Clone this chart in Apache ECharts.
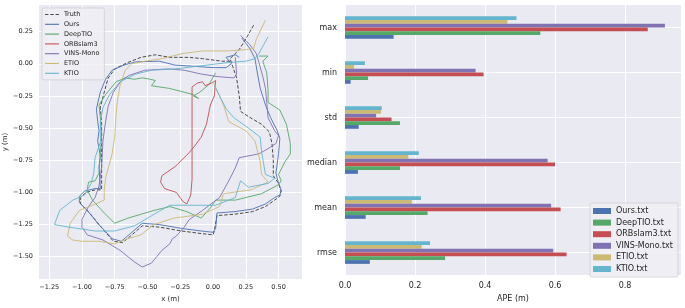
<!DOCTYPE html>
<html><head><meta charset="utf-8">
<script src="https://cdn.jsdelivr.net/npm/echarts@6/dist/echarts.min.js"></script>
<style>html,body{margin:0;padding:0;background:#fff}#c{width:685px;height:308px}</style>
</head><body><div id="c"></div>
<script>
// ---------- Left panel: trajectories [x (m), y (m)] ----------
const truth = [[0.31,0.30],[0.26,0.21],[0.20,0.11],[0.13,0.04],[0.15,-0.02],[0.18,-0.11],[0.20,-0.25],[0.21,-0.37],[0.27,-0.41],[0.37,-0.47],[0.43,-0.53],[0.45,-0.62],[0.46,-0.75],[0.46,-0.87],[0.50,-0.93],[0.52,-0.99],[0.51,-1.03],[0.47,-1.06],[0.40,-1.11],[0.30,-1.15],[0.16,-1.17],[0.03,-1.18],[0.01,-1.30],[0.00,-1.33],[-0.09,-1.32],[-0.24,-1.30],[-0.41,-1.27],[-0.54,-1.26],[-0.63,-1.34],[-0.69,-1.39],[-0.76,-1.38],[-0.87,-1.25],[-0.95,-1.15],[-1.01,-1.09],[-1.01,-1.04],[-0.97,-1.00],[-0.90,-0.98],[-0.85,-0.98],[-0.85,-0.80],[-0.85,-0.67],[-0.85,-0.47],[-0.86,-0.34],[-0.83,-0.22],[-0.80,-0.11],[-0.75,-0.04],[-0.65,0.01],[-0.55,0.05],[-0.44,0.07],[-0.33,0.05],[-0.19,0.05],[-0.08,0.04],[0.07,0.02],[0.13,0.02]];
const ours = [[0.22,0.20],[0.28,0.12],[0.32,0.04],[0.34,-0.08],[0.36,-0.19],[0.40,-0.32],[0.44,-0.42],[0.49,-0.52],[0.51,-0.58],[0.50,-0.70],[0.48,-0.85],[0.50,-0.93],[0.52,-0.98],[0.51,-1.02],[0.47,-1.04],[0.40,-1.09],[0.30,-1.13],[0.16,-1.15],[0.03,-1.16],[0.02,-1.28],[0.00,-1.31],[-0.09,-1.30],[-0.24,-1.28],[-0.41,-1.25],[-0.54,-1.24],[-0.63,-1.32],[-0.70,-1.38],[-0.77,-1.36],[-0.88,-1.24],[-0.96,-1.14],[-1.02,-1.08],[-1.02,-1.03],[-0.98,-0.99],[-0.90,-0.97],[-0.86,-0.97],[-0.87,-0.80],[-0.86,-0.72],[-0.88,-0.60],[-0.87,-0.52],[-0.88,-0.45],[-0.89,-0.35],[-0.86,-0.22],[-0.82,-0.12],[-0.77,-0.05],[-0.68,-0.01],[-0.59,0.015],[-0.41,0.02],[-0.29,-0.01],[-0.14,-0.02],[0.00,-0.03],[0.10,-0.03],[0.14,0.00],[0.10,0.05],[0.17,0.07],[0.20,0.05]];
const deepTIO = [[0.35,0.06],[0.42,0.06],[0.38,0.02],[0.41,-0.07],[0.42,-0.20],[0.42,-0.30],[0.51,-0.36],[0.56,-0.47],[0.59,-0.62],[0.59,-0.70],[0.55,-0.76],[0.50,-0.86],[0.52,-0.91],[0.50,-0.94],[0.37,-1.01],[0.17,-1.06],[0.02,-1.06],[-0.02,-1.12],[-0.09,-1.20],[-0.20,-1.15],[-0.33,-1.11],[-0.45,-1.14],[-0.55,-1.17],[-0.65,-1.20],[-0.75,-1.24],[-0.83,-1.16],[-0.92,-1.06],[-0.96,-0.98],[-0.95,-0.92],[-0.90,-0.91],[-0.87,-0.85],[-0.86,-0.70],[-0.85,-0.55],[-0.86,-0.42],[-0.87,-0.32],[-0.82,-0.24],[-0.74,-0.14],[-0.67,-0.11],[-0.60,-0.12],[-0.54,-0.11],[-0.48,-0.12],[-0.44,-0.13],[-0.47,-0.17],[-0.41,-0.18],[-0.34,-0.19],[-0.26,-0.21],[-0.15,-0.24],[-0.11,-0.27],[-0.15,-0.25],[-0.10,-0.22],[-0.03,-0.16],[0.02,-0.07]];
const orbslam3 = [[0.02,-0.13],[0.01,-0.25],[-0.02,-0.32],[-0.05,-0.47],[-0.09,-0.57],[-0.14,-0.64],[-0.19,-0.70],[-0.29,-0.80],[-0.39,-0.87],[-0.40,-0.92],[-0.37,-0.97],[-0.28,-1.00],[-0.23,-1.07],[-0.20,-1.09],[-0.17,-1.02],[-0.16,-0.90],[-0.16,-0.60],[-0.16,-0.30],[-0.16,-0.18],[-0.12,-0.15],[-0.08,-0.14],[-0.06,-0.17],[-0.01,-0.15],[0.02,-0.13]];
const vinsMono = [[0.21,0.22],[0.28,0.15],[0.33,0.08],[0.35,0.01],[0.38,-0.10],[0.40,-0.19],[0.41,-0.30],[0.42,-0.42],[0.47,-0.52],[0.50,-0.56],[0.48,-0.62],[0.42,-0.66],[0.35,-0.70],[0.20,-0.73],[0.17,-0.81],[0.12,-0.91],[0.05,-1.04],[-0.08,-1.14],[-0.18,-1.21],[-0.22,-1.27],[-0.28,-1.34],[-0.31,-1.36],[-0.33,-1.40],[-0.39,-1.45],[-0.43,-1.50],[-0.47,-1.55],[-0.54,-1.58],[-0.60,-1.54],[-0.71,-1.45],[-0.84,-1.37],[-0.96,-1.33],[-1.00,-1.27],[-1.00,-1.21],[-0.95,-1.11],[-0.90,-1.04],[-0.87,-0.95],[-0.85,-0.80],[-0.84,-0.60],[-0.82,-0.45],[-0.80,-0.33],[-0.76,-0.22],[-0.70,-0.13],[-0.64,-0.09],[-0.52,-0.05],[-0.34,-0.04],[-0.22,-0.05],[-0.09,-0.08],[0.04,-0.10],[0.16,-0.11],[0.18,-0.08],[0.17,0.05]];
const etio = [[0.00,-0.14],[0.05,-0.25],[0.08,-0.32],[0.12,-0.45],[0.25,-0.52],[0.32,-0.60],[0.36,-0.76],[0.37,-0.86],[0.42,-0.92],[0.29,-0.98],[0.08,-1.01],[0.05,-1.11],[-0.08,-1.17],[-0.30,-1.20],[-0.45,-1.25],[-0.55,-1.33],[-0.65,-1.36],[-0.75,-1.40],[-0.87,-1.38],[-1.00,-1.38],[-1.07,-1.37],[-1.11,-1.34],[-1.09,-1.24],[-1.02,-1.14],[-0.92,-1.10],[-0.83,-1.06],[-0.83,-0.98],[-0.82,-0.89],[-0.77,-0.70],[-0.75,-0.57],[-0.74,-0.39],[-0.73,-0.29],[-0.71,-0.17],[-0.67,-0.05],[-0.62,0.00],[-0.52,0.02],[-0.39,0.04],[-0.23,0.08],[-0.08,0.10],[0.12,0.10],[0.25,0.11],[0.31,0.12],[0.33,0.19],[0.40,0.34]];
const ktio = [[0.01,-0.17],[0.06,-0.27],[0.10,-0.35],[0.16,-0.42],[0.27,-0.50],[0.36,-0.57],[0.37,-0.68],[0.38,-0.74],[0.40,-0.86],[0.47,-0.89],[0.42,-0.93],[0.27,-0.96],[0.21,-0.91],[0.17,-1.04],[0.02,-1.10],[-0.15,-1.10],[-0.33,-1.10],[-0.45,-1.17],[-0.60,-1.26],[-0.75,-1.30],[-0.90,-1.30],[-1.10,-1.27],[-1.21,-1.25],[-1.17,-1.14],[-1.07,-1.06],[-0.98,-1.02],[-0.93,-0.93],[-0.91,-0.85],[-0.90,-0.73],[-0.86,-0.61],[-0.86,-0.45],[-0.84,-0.34],[-0.79,-0.24],[-0.71,-0.14],[-0.59,-0.08],[-0.47,-0.05],[-0.29,-0.04],[-0.09,-0.015],[0.12,0.01],[0.25,0.02],[0.32,0.04],[0.35,0.08],[0.42,0.21]];

const trajNames = ['Truth','Ours','DeepTIO','ORBslam3','VINS-Mono','ETIO','KTIO'];
const xTicksLeft = [-1.25,-1.0,-0.75,-0.5,-0.25,0,0.25,0.5];
const yTicksLeft = [-1.5,-1.25,-1.0,-0.75,-0.5,-0.25,0,0.25];

// ---------- Right panel: APE statistics ----------
const statCats = ['rmse','mean','median','std','min','max'];
const apeNames = ['Ours.txt','DeepTIO.txt','ORBslam3.txt','VINS-Mono.txt','ETIO.txt','KTIO.txt'];
const apeOurs     = [0.071,0.059,0.037,0.039,0.016,0.139];
const apeDeepTIO  = [0.286,0.236,0.157,0.157,0.066,0.558];
const apeORBslam3 = [0.633,0.616,0.600,0.133,0.396,0.865];
const apeVINSMono = [0.595,0.589,0.579,0.089,0.373,0.914];
const apeETIO     = [0.219,0.191,0.181,0.103,0.026,0.464];
const apeKTIO     = [0.243,0.217,0.211,0.105,0.057,0.490];
const xTicksRight = [0,0.2,0.4,0.6,0.8];

const colors = ['#4C72B0','#55A868','#C44E52','#8172B2','#CCB974','#64B5CD'];
const FONT = 'DejaVu Sans';
const TXT = '#262626';
const TRUTH_COLOR = '#4a4a4a';
const fmt2 = v => (v < 0 ? '\u2212' : '') + Math.abs(v).toFixed(2);

const solidIcon = 'path://M0,0h14v1.1h-14z';
const dashIcon = 'path://M0,0h3.4v1.1h-3.4zM5.3,0h3.4v1.1h-3.4zM10.6,0h3.4v1.1h-3.4z';

const trajData = [truth, ours, deepTIO, orbslam3, vinsMono, etio, ktio];
const lineSeries = trajData.map((d, i) => ({
  name: trajNames[i], type: 'line', xAxisIndex: 0, yAxisIndex: 0,
  data: d, symbol: 'none', showSymbol: false, silent: true,
  lineStyle: i === 0 ? {color: TRUTH_COLOR, width: 1, type: [3.5, 1.8]} : {color: colors[i-1], width: 0.9},
  itemStyle: {color: i === 0 ? TRUTH_COLOR : colors[i-1]},
  z: 2 + i
}));
const apeData = [apeOurs, apeDeepTIO, apeORBslam3, apeVINSMono, apeETIO, apeKTIO];
// series listed last-to-first so that the first method sits at the bottom of each group
const barSeries = apeData.map((d, i) => ({
  name: apeNames[i], type: 'bar', xAxisIndex: 1, yAxisIndex: 1,
  data: d, barGap: '0%', barCategoryGap: '50%',
  itemStyle: {color: colors[i]}, silent: true
})).reverse();

const chart = echarts.init(document.getElementById('c'), null, {renderer: 'canvas'});
chart.setOption({
  animation: false,
  textStyle: {fontFamily: FONT},
  grid: [
    {left: 39, top: 5, width: 263, height: 280, show: true, backgroundColor: '#EAEAF2', borderWidth: 0},
    {left: 345, top: 5, width: 336, height: 274, show: true, backgroundColor: '#EAEAF2', borderWidth: 0}
  ],
  xAxis: [
    {type: 'value', gridIndex: 0, min: -1.328, max: 0.679,
     axisLine: {show: false}, axisTick: {show: false, customValues: xTicksLeft},
     axisLabel: {customValues: xTicksLeft, formatter: fmt2, fontSize: 6.5, color: TXT, margin: 5, fontFamily: FONT},
     splitLine: {show: true, lineStyle: {color: '#ffffff', width: 1}},
     name: 'x (m)', nameLocation: 'middle', nameGap: 14,
     nameTextStyle: {fontSize: 7, color: TXT, fontFamily: FONT}},
    {type: 'value', gridIndex: 1, min: 0, max: 0.96,
     axisLine: {show: false}, axisTick: {show: false, customValues: xTicksRight},
     axisLabel: {customValues: xTicksRight, formatter: v => v.toFixed(1), fontSize: 8, color: TXT, margin: 7, fontFamily: FONT},
     splitLine: {show: true, lineStyle: {color: '#ffffff', width: 1}},
     name: 'APE (m)', nameLocation: 'middle', nameGap: 18,
     nameTextStyle: {fontSize: 8, color: TXT, fontFamily: FONT}}
  ],
  yAxis: [
    {type: 'value', gridIndex: 0, min: -1.674, max: 0.457,
     axisLine: {show: false}, axisTick: {show: false, customValues: yTicksLeft},
     axisLabel: {customValues: yTicksLeft, formatter: fmt2, fontSize: 6.5, color: TXT, margin: 6, fontFamily: FONT},
     splitLine: {show: true, lineStyle: {color: '#ffffff', width: 1}},
     name: 'y (m)', nameLocation: 'middle', nameGap: 25, nameRotate: 90,
     nameTextStyle: {fontSize: 7, color: TXT, fontFamily: FONT}},
    {type: 'category', gridIndex: 1, data: statCats,
     axisLine: {show: false}, axisTick: {show: false, alignWithLabel: true},
     axisLabel: {fontSize: 8, color: TXT, margin: 8, fontFamily: FONT},
     splitLine: {show: true, alignWithLabel: true, lineStyle: {color: '#ffffff', width: 1}}}
  ],
  legend: [
    {data: trajNames.map((n, i) => ({name: n, icon: i === 0 ? dashIcon : solidIcon})),
     left: 42, top: 8, orient: 'vertical',
     itemWidth: 14, itemHeight: 7, itemGap: 2.8, padding: [3, 5, 3, 3],
     itemStyle: {borderWidth: 0}, lineStyle: {width: 0},
     backgroundColor: 'rgba(238,238,244,0.85)', borderColor: '#cfcfd6', borderWidth: 0.8, borderRadius: 2,
     textStyle: {fontSize: 6.5, color: TXT, fontFamily: FONT, lineHeight: 7}},
    {data: apeNames, left: 590, top: 203, orient: 'vertical', icon: 'rect',
     itemWidth: 18, itemHeight: 6, itemGap: 3.6, padding: [4, 5, 4, 3],
     backgroundColor: 'rgba(238,238,244,0.85)', borderColor: '#cfcfd6', borderWidth: 0.8, borderRadius: 2,
     textStyle: {fontSize: 8, color: TXT, fontFamily: FONT, lineHeight: 8}}
  ],
  series: lineSeries.concat(barSeries)
});
</script></body></html>
